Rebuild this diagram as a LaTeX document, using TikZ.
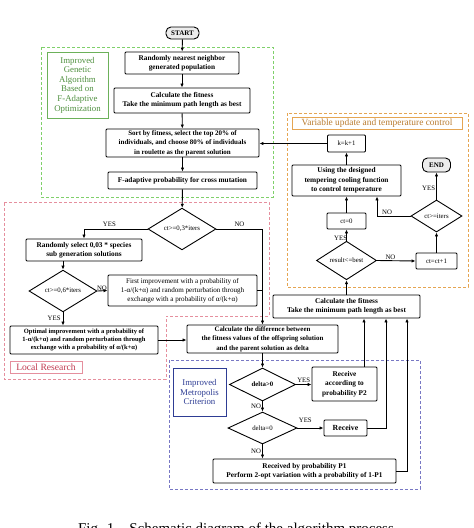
\documentclass[tikz,border=0pt]{standalone}
\usepackage{fontspec}
\setmainfont{Liberation Serif}
\usetikzlibrary{arrows.meta,shapes.geometric,calc}
\definecolor{gdash}{HTML}{7FD06A}
\definecolor{gtext}{HTML}{4E8F3E}
\definecolor{rdash}{HTML}{E58F9E}
\definecolor{rtext}{HTML}{C0394F}
\definecolor{odash}{HTML}{E5A552}
\definecolor{otext}{HTML}{B87A2E}
\definecolor{bdash}{HTML}{7878C4}
\definecolor{btext}{HTML}{2E3D94}
\begin{document}
\begin{tikzpicture}[x=1pt,y=-1pt,
  every node/.style={inner sep=1pt},
  box/.style={draw, line width=0.9pt, rounded corners=1pt, fill=white, align=center,
    font=\bfseries\fontsize{7.3}{9.3}\selectfont, minimum width=#1},
  box/.default=20pt,
  sbox/.style={box=#1, font=\fontsize{7.1}{8.8}\selectfont},
  sbox/.default=20pt,
  term/.style={draw, line width=0.9pt, rounded corners=5pt, fill=gray!15,
    font=\bfseries\fontsize{7}{8}\selectfont},
  dia/.style={diamond, draw, line width=0.9pt, fill=white, inner sep=0pt,
    font=\fontsize{6.8}{8}\selectfont},
  arr/.style={line width=0.9pt, -{Latex[length=4pt,width=3.4pt]}},
  ln/.style={line width=0.9pt},
  lab/.style={font=\fontsize{6.8}{8}\selectfont},
  region/.style={line width=0.8pt, dash pattern=on 3pt off 2pt},
  tag/.style={draw, line width=0.8pt, align=center, font=\fontsize{8.8}{9.6}\selectfont},
]
\useasboundingbox (0,0) rectangle (474,528);
\clip (0,0) rectangle (474,528);

% regions
\draw[region, gdash] (41,47) rectangle (273,197);
\draw[region, rdash] (4,202) -- (269,202) -- (269,316) -- (166,316) -- (166,379) -- (4,379) -- cycle;
\draw[region, odash] (287,113) rectangle (468,287);
\draw[region, bdash] (169,360) rectangle (420,489);

% region tags
\node[tag, draw=gdash!85!black, text=gtext, minimum width=61pt, minimum height=66pt, inner sep=0pt] (tg) at (77.5,85)
  {Improved\\Genetic\\Algorithm\\Based on\\F-Adaptive\\Optimization};
\node[tag, draw=odash, text=otext, minimum width=170pt, minimum height=12pt, inner sep=0pt,
  font=\fontsize{9.4}{10}\selectfont] (to) at (377,123)
  {Variable update and temperature control};
\node[tag, draw=rdash, text=rtext, minimum width=72pt, minimum height=12pt, inner sep=0pt,
  font=\fontsize{9.6}{10}\selectfont] (tr) at (46,367)
  {Local Research};
\node[tag, draw=btext, text=btext, minimum width=53pt, minimum height=48pt] (tb) at (199.5,392)
  {Improved\\Metropolis\\Criterion};

% main column
\node[term, minimum width=33pt, minimum height=12pt] (start) at (182.5,33) {START};
\node[box=114pt, minimum height=22pt] (n1) at (182,63) {Randomly nearest neighbor\\generated population};
\node[box=136pt, minimum height=25pt] (n2) at (182,100.5) {Calculate the fitness\\Take the minimum path length as best};
\node[box=153pt, minimum height=28pt, font=\bfseries\fontsize{7}{9.3}\selectfont] (n3) at (182.5,143)
  {Sort by fitness, select the top 20\% of\\individuals, and choose 80\% of individuals\\in roulette as the parent solution};
\node[box=149pt, minimum height=17pt] (n4) at (182.5,180.5) {F-adaptive probability for cross mutation};
\node[dia, minimum width=68pt, minimum height=33pt] (d1) at (182,229) {ct>=0,3*iters};

% local research
\node[box=116pt, minimum height=22pt] (n5) at (84,250) {Randomly select 0,03 * species\\sub generation solutions};
\node[dia, minimum width=68pt, minimum height=32pt] (d2) at (63,291) {ct>=0,6*iters};
\node[sbox=149pt, minimum height=31pt] (n6) at (182.5,290.5)
  {First improvement with a probability of\\1-α/(k+α) and random perturbation through\\exchange with a probability of α/(k+α)};
\node[sbox=148pt, minimum height=28pt, font=\bfseries\fontsize{6.5}{8.3}\selectfont] (n7) at (84,340)
  {Optimal improvement with a probability of\\1-α/(k+α) and random perturbation through\\exchange with a probability of α/(k+α)};
\node[box=151pt, minimum height=28pt, font=\bfseries\fontsize{6.9}{9.3}\selectfont] (n8) at (262.5,339)
  {Calculate the difference between\\the fitness values of the offspring solution\\and the parent solution as delta};

% metropolis
\node[dia, minimum width=66pt, minimum height=33pt, font=\bfseries\fontsize{6.8}{8}\selectfont] (d3) at (262.5,384.5) {delta>0};
\node[box=65pt, minimum height=34pt] (n9) at (344.5,384) {Receive\\according to\\probability P2};
\node[dia, minimum width=69pt, minimum height=32pt] (d4) at (262.5,428) {delta=0};
\node[box=43pt, minimum height=16pt, font=\bfseries\fontsize{7.8}{9}\selectfont] (n10) at (345.5,428) {Receive};
\node[box=183pt, minimum height=24pt] (n11) at (304.5,471) {Received by probability P1\\Perform 2-opt variation with a probability of 1-P1};
\node[box=147pt, minimum height=23pt] (n12) at (346.5,306.5) {Calculate the fitness\\Take the minimum path length as best};

% temperature control
\node[dia, minimum width=60pt, minimum height=27pt] (d5) at (346.5,260.5) {result<=best};
\node[box=39pt, minimum height=16pt, font=\fontsize{6.8}{8}\selectfont] (n13) at (346.5,221) {ct=0};
\node[box=41pt, minimum height=16pt, font=\fontsize{6.8}{8}\selectfont] (n14) at (436.5,261) {ct=ct+1};
\node[dia, minimum width=51pt, minimum height=32pt] (d6) at (436.5,216) {ct>=iters};
\node[term, minimum width=28pt, minimum height=14pt] (end) at (436.5,165) {END};
\node[box=109pt, minimum height=31pt] (n15) at (346.5,180.5) {Using the designed\\tempering cooling function\\to control temperature};
\node[box=38pt, minimum height=17pt, font=\fontsize{6.8}{8}\selectfont] (n16) at (346.5,143.5) {k=k+1};

% connectors: main column
\draw[arr] (start) -- (n1);
\draw[arr] (n1) -- (n2);
\draw[arr] (n2) -- (n3);
\draw[arr] (n3) -- (n4);
\draw[arr] (n4) -- (d1);
\draw[arr] (d1.west) -| node[lab, pos=0.3, above=1pt] {YES} (n5.north);
\draw[arr] (d1.east) -| node[lab, pos=0.25, above=1pt] {NO} (n8.north);
\draw[arr] (n5.south -| d2.north) -- (d2.north);
\draw[arr] (d2.east) -- node[lab, above=-1pt, pos=0.45] {NO} (n6.west);
\draw[ln] (n6.east) -- (n6.east -| n8.north);
\draw[arr] (d2.south) -- node[lab, left=1pt, pos=0.45] {YES} (d2.south |- n7.north);
\draw[arr] (n7.east) -- (n7.east -| n8.west);
\draw[arr] (n8.south -| d3.north) -- (d3.north);

% metropolis
\draw[arr] (d3.east) -- node[lab, above=0pt] {YES} (n9.west |- d3.east);
\draw[arr] (d3.south) -- node[lab, left=0pt] {NO} (d4.north);
\draw[arr] (d4.east) -- node[lab, above=4pt, pos=0.3] {YES} (n10.west);
\draw[arr] (d4.south) -- node[lab, left=0pt, pos=0.45] {NO} (d4.south |- n11.north);
\draw[arr] ([xshift=19.5pt]n9.north) -- ([xshift=19.5pt]n9.north |- n12.south);
\draw[arr] (n10.east) -| ([xshift=39.5pt]n12.south);
\draw[arr] (n11.east) -| ([xshift=60.5pt]n12.south);

% temperature control
\draw[arr] (n12.north) -- (d5.south);
\draw[arr] (d5.north) -- node[lab, left=-2pt, pos=0.25] {YES} (n13.south);
\draw[arr] (d5.east) -- node[lab, above=0pt, pos=0.35] {NO} (n14.west);
\draw[arr] (n14.north) -- (d6.south);
\draw[arr] (d6.north) -- node[lab, left=0pt, pos=0.4] {YES} (end.south);
\draw[arr] (d6.west) -| node[lab, above=0pt, pos=0.35] {NO} ([xshift=30.5pt]n15.south);
\draw[arr] (n13.north) -- (n15.south);
\draw[arr] (n15.north) -- (n16.south);
\draw[arr] (n16.west) -- (n16.west -| n3.east);

% caption (cut off at the bottom edge, as in the reference)
\node[anchor=base, font=\fontsize{15}{17}\selectfont, inner sep=0pt] (cap) at (236,533)
  {Fig. 1\quad Schematic diagram of the algorithm process};
\end{tikzpicture}
\end{document}
